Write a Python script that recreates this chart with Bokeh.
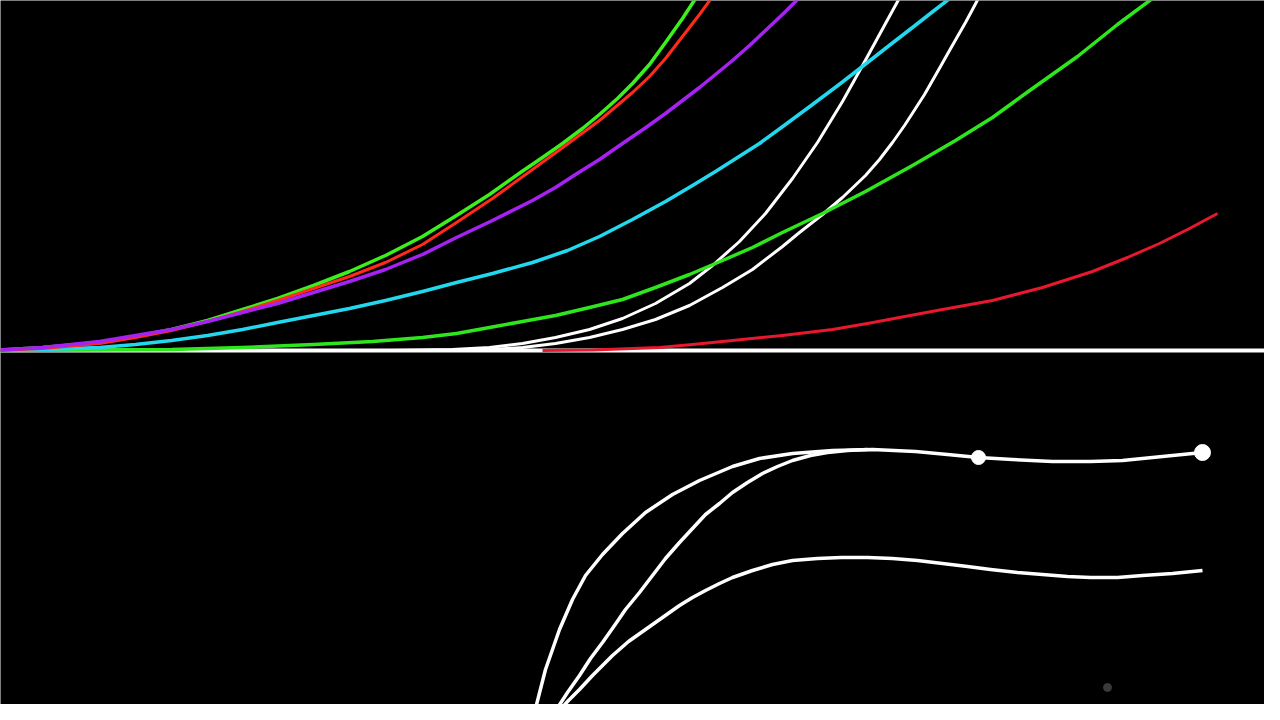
from bokeh.plotting import figure
from bokeh.models import Range1d
from bokeh.embed import file_html
from bokeh.resources import INLINE

# ---- upper panel: rising curves (height above the zero baseline) ----
green_top_x = [0, 50, 107, 143, 179, 215, 250, 285, 321, 357, 393, 430, 464, 497, 528, 550, 570, 590, 607, 625, 640, 657, 673, 690, 707]
green_top_y = [0, 3, 8, 14, 21, 30, 41, 52, 65, 79, 95, 114, 135, 156, 178, 193, 207, 222, 236, 252, 267, 286, 308, 332, 358]

red_top_x = [0, 50, 107, 143, 179, 215, 250, 285, 321, 357, 393, 430, 464, 500, 540, 573, 607, 640, 657, 673, 690, 707, 723]
red_top_y = [0, 2, 7, 13, 20, 29, 39, 50, 62, 74, 88, 106, 128, 152, 181, 205, 230, 258, 274, 292, 314, 336, 358]

purple_x = [0, 50, 107, 143, 179, 215, 250, 285, 321, 357, 393, 430, 464, 500, 540, 563, 583, 607, 630, 652, 673, 690, 707, 723, 740, 757, 773, 792, 812]
purple_y = [0, 3, 9, 15, 21, 29, 38, 47, 58, 69, 81, 96, 113, 130, 150, 163, 176, 191, 207, 222, 237, 250, 263, 276, 290, 305, 320, 338, 358]

cyan_x = [0, 50, 107, 143, 179, 215, 250, 285, 321, 357, 393, 430, 464, 500, 540, 575, 607, 640, 673, 700, 723, 745, 767, 793, 820, 848, 875, 898, 920, 943, 965]
cyan_y = [0, 1, 3, 6, 10, 15, 21, 28, 35, 42, 50, 59, 68, 77, 88, 100, 114, 131, 149, 165, 179, 193, 207, 226, 246, 267, 288, 306, 323, 341, 358]

green_low_x = [0, 179, 250, 321, 380, 430, 464, 497, 530, 563, 597, 630, 663, 697, 730, 760, 790, 830, 873, 920, 963, 1000, 1040, 1085, 1125, 1168]
green_low_y = [0, 1, 3, 6, 9, 13, 17, 23, 29, 35, 43, 51, 63, 76, 90, 103, 118, 137, 159, 185, 210, 233, 262, 294, 326, 358]

red_low_x = [550, 600, 640, 667, 700, 740, 790, 840, 875, 907, 950, 1000, 1050, 1100, 1135, 1167, 1197, 1225]
red_low_y = [0, 0.5, 2, 3, 6, 10, 15, 21, 27, 33, 41, 50, 63, 79, 93, 107, 122, 137]

white_a_x = [0, 400, 460, 497, 530, 563, 597, 630, 663, 697, 720, 747, 773, 800, 825, 850, 875, 893, 910]
white_a_y = [0, 0, 1, 3, 7, 13, 21, 32, 47, 67, 85, 109, 137, 172, 208, 249, 294, 327, 358]

white_b_x = [0, 450, 500, 530, 563, 597, 630, 663, 697, 730, 760, 790, 807, 830, 850, 873, 887, 900, 912, 923, 932, 940, 948, 957, 965, 973, 980, 989]
white_b_y = [0, 0, 1, 3, 7, 13, 21, 31, 45, 63, 81, 104, 118, 136, 153, 175, 191, 208, 225, 242, 256, 270, 284, 300, 314, 328, 341, 358]

baseline_x = [0, 1280]
baseline_y = [0, 0]

# ---- lower panel: saturating curves (below zero) ----
sat1_x = [542, 553, 567, 580, 593, 610, 630, 653, 680, 707, 740, 767, 800, 840, 880, 923, 955, 986, 1020, 1060, 1098, 1130, 1160, 1190, 1210]
sat1_y = [-362, -319, -279, -249, -225, -204, -183, -162, -144, -130, -116, -108, -103, -100, -99, -101, -104, -107, -109, -111, -111, -110, -107, -104, -102]

sat2_x = [562, 575, 587, 598, 610, 622, 633, 647, 660, 673, 687, 700, 713, 727, 740, 755, 770, 785, 800, 818, 835, 855, 875]
sat2_y = [-362, -342, -325, -308, -292, -275, -259, -242, -225, -208, -192, -178, -164, -153, -142, -132, -123, -116, -110, -105, -102, -100, -99]

sat3_x = [565, 576, 587, 600, 620, 636, 653, 670, 687, 700, 713, 727, 740, 760, 780, 800, 825, 849, 875, 900, 925, 950, 975, 998, 1025, 1050, 1075, 1098, 1125, 1150, 1180, 1210]
sat3_y = [-362, -350, -339, -325, -305, -291, -279, -267, -255, -247, -240, -233, -227, -220, -214, -210, -208, -207, -207, -208, -210, -213, -216, -219, -222, -224, -226, -227, -227, -225, -223, -220]

marker_x = [986, 1210]
marker_y = [-107, -102]
marker_size = [14, 16]

faint_x = [1115]
faint_y = [-337]

p = figure(width=1264, height=704, output_backend="svg", toolbar_location=None,
           x_range=Range1d(8, 1272), y_range=Range1d(-354, 350),
           min_border=0, background_fill_color="black", border_fill_color="black",
           outline_line_color=None, x_axis_location=None, y_axis_location=None)
p.xgrid.visible = False
p.ygrid.visible = False

p.line(baseline_x, baseline_y, line_color="white", line_width=4)

p.line(white_a_x, white_a_y, line_color="white", line_width=3, line_join="round")
p.line(white_b_x, white_b_y, line_color="white", line_width=3, line_join="round")
p.line(green_low_x, green_low_y, line_color="#2ee61c", line_width=3.5, line_join="round")
p.line(red_low_x, red_low_y, line_color="#e8182e", line_width=3, line_join="round")
p.line(cyan_x, cyan_y, line_color="#22d8ee", line_width=3.5, line_join="round")
p.line(green_top_x, green_top_y, line_color="#3cf01c", line_width=3.5, line_join="round")
p.line(red_top_x, red_top_y, line_color="#ff2a1a", line_width=3, line_join="round")
p.line(purple_x, purple_y, line_color="#a622f2", line_width=3.5, line_join="round")

p.line(sat1_x, sat1_y, line_color="white", line_width=3.5, line_join="round")
p.line(sat2_x, sat2_y, line_color="white", line_width=3.5, line_join="round")
p.line(sat3_x, sat3_y, line_color="white", line_width=3.5, line_join="round")
p.scatter(marker_x, marker_y, size=marker_size, fill_color="white", line_color="white")
p.scatter(faint_x, faint_y, size=8, fill_color="#3a3a3a", line_color="#3a3a3a")

open("out.html", "w").write(file_html(p, INLINE))
